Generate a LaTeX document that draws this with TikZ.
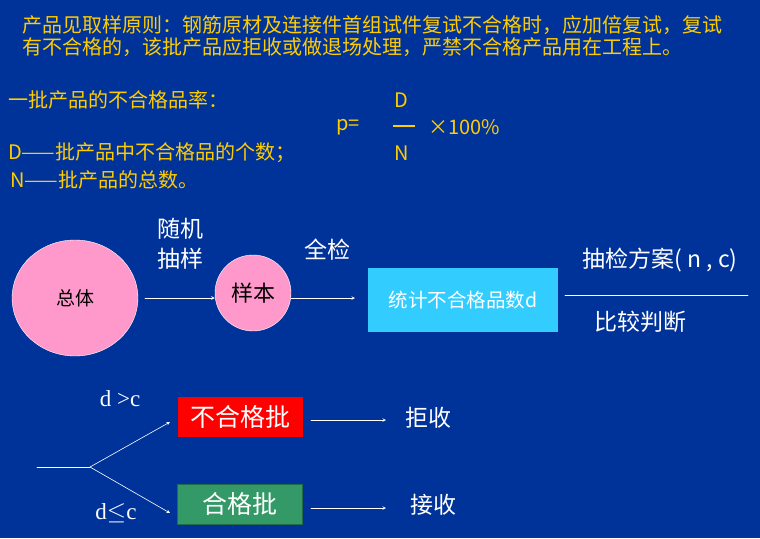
\documentclass[tikz,border=0pt]{standalone}
\usepackage{fontspec}
\setmainfont{Liberation Serif}
\newfontfamily\cjk{Noto Sans CJK SC}
\usetikzlibrary{positioning,shapes.geometric}
\definecolor{slidebg}{HTML}{003399}
\definecolor{slidegold}{HTML}{FFCC00}
\definecolor{slidepink}{HTML}{FF99CC}
\definecolor{slidecyan}{HTML}{33CCFF}
\definecolor{slidegreen}{HTML}{339966}
\begin{document}
\begin{tikzpicture}[x=1pt, y=-1pt, >=stealth, line join=round, line cap=round]
	\tikzset{gold/.style={text=slidegold, font=\cjk\fontsize{20}{22}\selectfont, anchor=west, inner sep=0pt},
		big/.style={text=white, font=\cjk\fontsize{23}{26}\selectfont, inner sep=0pt},
		flow/.style={->, draw=white, line width=0.6pt}}
	\fill[slidebg] (0,0) rectangle (760,538);
	\useasboundingbox (0,0) rectangle (760,538);
	% rule and rate
	\node[gold] (r1) at (22,25) {产品见取样原则：钢筋原材及连接件首组试件复试不合格时，应加倍复试，复试};
	\node[gold] (r2) at (22,47) {有不合格的，该批产品应拒收或做退场处理，严禁不合格产品用在工程上。};
	\node[gold] (rate) at (8,100) {一批产品的不合格品率：};
	\node[gold] (dd) at (8,153) {D——批产品中不合格品的个数；};
	\node[gold] (nn) at (10,180) {N——批产品的总数。};
	\node[gold] (pe) at (336,127) {p=};
	\node[gold] (num) at (394,100) {D};
	\draw[slidegold, line width=2pt, line cap=butt] (393,126) -- (415,126);
	\node[gold] (pct) at (428,127) {×100\%};
	\node[gold] (den) at (394,153) {N};
	% flow
	\node[draw=white, line width=0.4pt, fill=slidepink, ellipse, minimum width=126pt, minimum height=116pt, text=black, font=\cjk\fontsize{19}{22}\selectfont] (pop) at (75,298) {总体};
	\node[draw=white, line width=0.4pt, fill=slidepink, circle, minimum size=76pt, text=black, font=\cjk\fontsize{22}{24}\selectfont] (smp) at (253,293) {样本};
	\node[fill=slidecyan, minimum width=190pt, minimum height=64pt, text=white, font=\cjk\fontsize{19.5}{22}\selectfont] (cnt) at (463,300) {统计不合格品数d};
	\draw[flow] (145,298) -- (smp.west |- 0,298);
	\draw[flow] (smp.east |- 0,298) -- (355,298);
	\node[big, align=center] (rand) at (180,244) {随机\\[4pt]抽样};
	\node[big] (all) at (327,250) {全检};
	\node[big] (plan) at (660,260) {抽检方案( n , c)};
	\draw[white, line width=0.6pt] (565,295) -- (748,295);
	\node[big] (cmp) at (640,322) {比较判断};
	% judgement
	\node[fill=red, minimum width=125pt, minimum height=40pt, big, font=\cjk\fontsize{25}{28}\selectfont] (bad) at (240,417) {不合格批};
	\node[fill=slidegreen, minimum width=125pt, minimum height=40pt, big, font=\cjk\fontsize{25}{28}\selectfont, draw=slidegreen!70!black] (good) at (240,504) {合格批};
	\coordinate (st) at (37,467);
	\coordinate (fork) at (90,467);
	\draw[white, line width=0.6pt] (st) -- (fork);
	\draw[flow] (fork) -- (170,422);
	\draw[flow] (fork) -- (170,513);
	\node[big, font=\fontsize{23}{26}\selectfont] (gt) at (120,399) {d >c};
	\node[big, font=\fontsize{23}{26}\selectfont] (le) at (116,513) {d$\leq$c};
	\node[big] (rej) at (428,418) {拒收};
	\node[big] (acc) at (433,505) {接收};
	\draw[flow] (311,420) -- (386,420);
	\draw[flow] (311,508) -- (386,508);
\end{tikzpicture}
\end{document}
